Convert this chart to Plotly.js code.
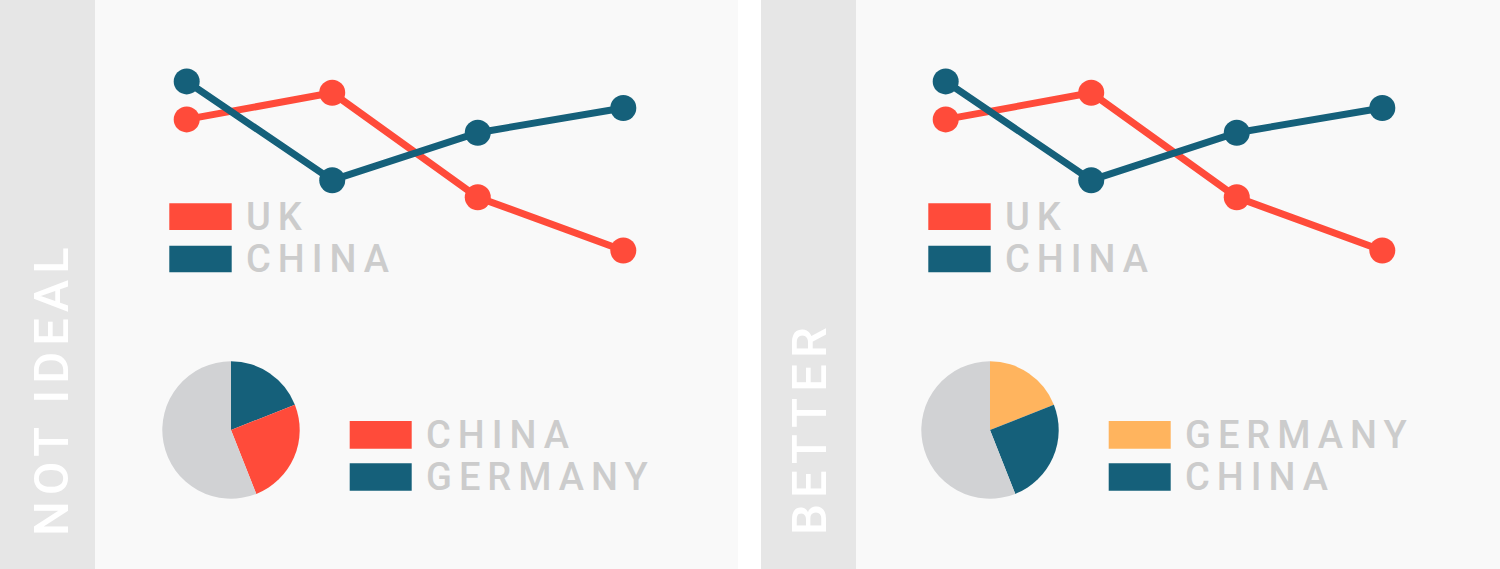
<!DOCTYPE html>
<html>
<head>
<meta charset="utf-8">
<script src="https://cdn.plot.ly/plotly-3.0.1.min.js"></script>
<style>
    html, body { margin: 0; padding: 0; background: #ffffff; }
    #chart { width: 1500px; height: 569px; }
    .annotation-text { letter-spacing: 7px; }
    .annotation[data-index="4"] text, .annotation[data-index="9"] text { letter-spacing: 6px; }
</style>
</head>
<body>
<div id="chart"></div>
<script>
// line chart data (same in both panels)
var periods = ['P1', 'P2', 'P3', 'P4'];
var ukValues = [74, 88, 33, 5];
var chinaValues = [94, 42, 67, 80];
var lineLegend = ['UK', 'CHINA'];

// pie data
var pieLabels = ['Germany', 'China', 'Other'];
var pieValues = [19, 25, 56];

// panel texts
var panelTitles = ['NOT IDEAL', 'BETTER'];
var pieLegendLeft = ['CHINA', 'GERMANY'];
var pieLegendRight = ['GERMANY', 'CHINA'];

var RED = '#ff4b3a';
var BLUE = '#15607a';
var ORANGE = '#ffb45e';
var GREY = '#d1d2d4';
var TEXT = '#cccccc';

var W = 1500, H = 569;

function px(x) { return x / W; }
function py(y) { return 1 - y / H; }

function rect(x0, y0, x1, y1, color, layer) {
    return {
        type: 'rect', xref: 'paper', yref: 'paper', layer: layer || 'below',
        x0: px(x0), x1: px(x1), y0: py(y1), y1: py(y0),
        fillcolor: color, line: {width: 0}
    };
}

function label(text, x, y, size, color, angle) {
    return {
        xref: 'paper', yref: 'paper', x: px(x), y: py(y),
        xanchor: angle ? 'center' : 'left', yanchor: 'middle',
        align: 'left', textangle: angle || 0,
        text: text, showarrow: false, borderpad: 0, borderwidth: 0,
        font: {family: 'Roboto', size: size, color: color, weight: 500}
    };
}

var data = [];
var shapes = [
    rect(0, 0, 95, H, '#e6e6e6'),
    rect(95, 0, 738, H, '#f9f9f9'),
    rect(761, 0, 856, H, '#e6e6e6'),
    rect(856, 0, W, H, '#f9f9f9')
];
var annotations = [];
var layout = {
    width: W, height: H,
    margin: {l: 0, r: 0, t: 0, b: 0},
    paper_bgcolor: '#ffffff',
    plot_bgcolor: 'rgba(0,0,0,0)',
    showlegend: false
};

var panels = [
    {off: 0, titleX: 51, titleY: 384, pieColors: [BLUE, RED, GREY], pieLegend: pieLegendLeft,
        pieSwatch: [RED, BLUE]},
    {off: 759, titleX: 809, titleY: 425, pieColors: [ORANGE, BLUE, GREY], pieLegend: pieLegendRight,
        pieSwatch: [ORANGE, BLUE]}
];

panels.forEach(function (p, i) {
    var n = i === 0 ? '' : String(i + 1);
    var o = p.off;

    layout['xaxis' + n] = {
        domain: [px(186.7 + o), px(623.3 + o)], range: [0, 3], type: 'category',
        visible: false, fixedrange: true, anchor: 'y' + n
    };
    layout['yaxis' + n] = {
        domain: [py(260), py(70)], range: [0, 100],
        visible: false, fixedrange: true, anchor: 'x' + n
    };

    [[ukValues, RED], [chinaValues, BLUE]].forEach(function (s) {
        data.push({
            type: 'scatter', mode: 'lines+markers',
            x: periods, y: s[0], xaxis: 'x' + n, yaxis: 'y' + n,
            line: {color: s[1], width: 7},
            marker: {color: s[1], size: 26},
            cliponaxis: false, hoverinfo: 'skip'
        });
    });

    data.push({
        type: 'pie', labels: pieLabels, values: pieValues,
        sort: false, direction: 'clockwise', rotation: 0,
        marker: {colors: p.pieColors, line: {width: 0}},
        textinfo: 'none', hoverinfo: 'skip',
        domain: {x: [px(162.3 + o), px(299.7 + o)], y: [py(498.7), py(361.3)]}
    });

    // line legend
    shapes.push(rect(169.3 + o, 203.3, 231.7 + o, 230, RED, 'above'));
    shapes.push(rect(169.3 + o, 245.7, 231.7 + o, 272.3, BLUE, 'above'));
    annotations.push(label(lineLegend[0], 246 + o, 217, 38, TEXT));
    annotations.push(label(lineLegend[1], 246 + o, 259, 38, TEXT));

    // pie legend
    shapes.push(rect(349.7 + o, 421, 411.7 + o, 448.7, p.pieSwatch[0], 'above'));
    shapes.push(rect(349.7 + o, 463.3, 411.7 + o, 490.7, p.pieSwatch[1], 'above'));
    annotations.push(label(p.pieLegend[0], 426 + o, 435, 38, TEXT));
    annotations.push(label(p.pieLegend[1], 426 + o, 477, 38, TEXT));

    annotations.push(label(panelTitles[i], p.titleX, p.titleY, 49, '#ffffff', -90));
});

layout.shapes = shapes;
layout.annotations = annotations;

Plotly.newPlot('chart', data, layout, {staticPlot: true, displayModeBar: false});
</script>
</body>
</html>
